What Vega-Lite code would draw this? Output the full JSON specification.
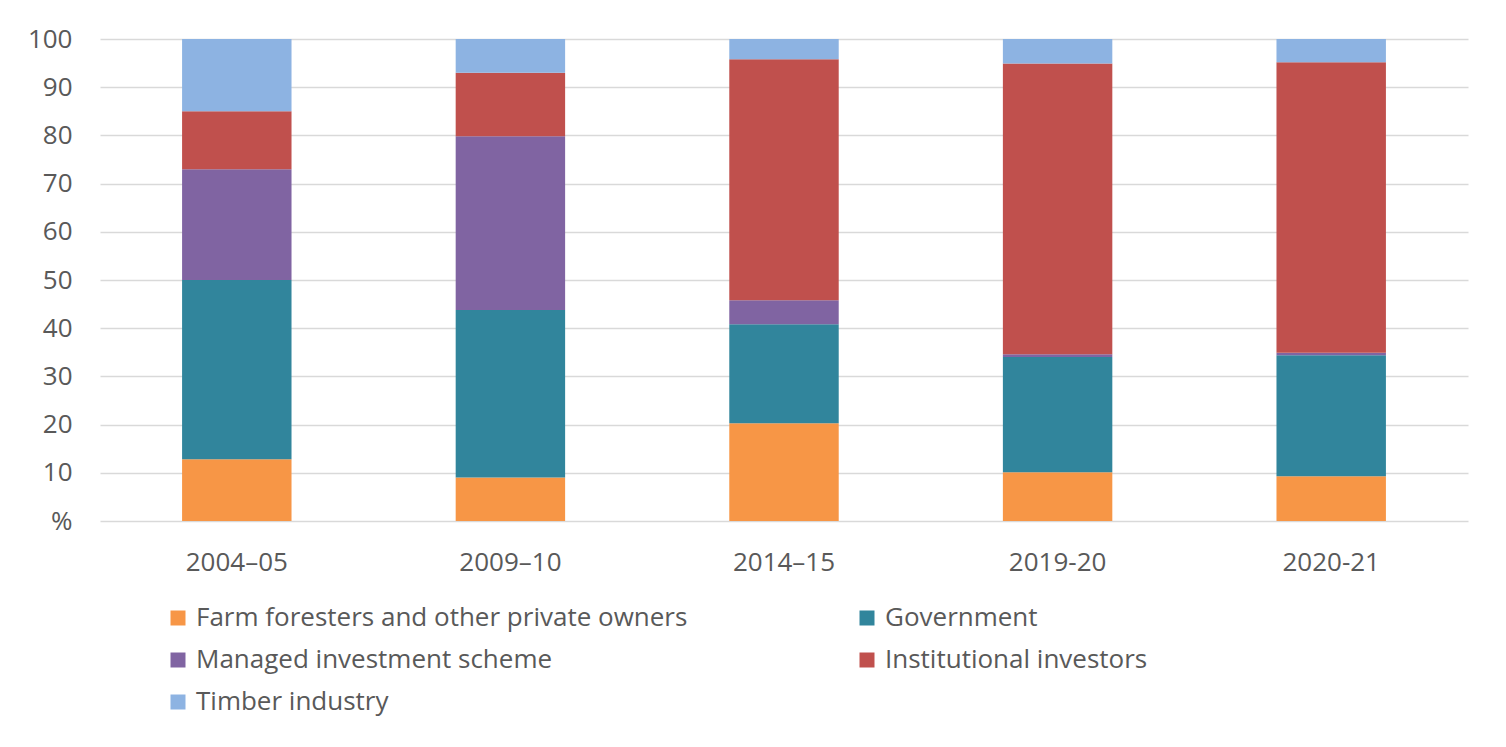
{
  "$schema": "https://vega.github.io/schema/vega-lite/v6.json",
  "autosize": {"type": "none"},
  "width": 1368,
  "height": 482,
  "padding": {"left": 100, "top": 39, "right": 38, "bottom": 226},
  "background": "white",
  "config": {
    "view": {"stroke": null},
    "font": "Open Sans",
    "axis": {"labelFont": "Open Sans", "labelColor": "#595959", "labelFontSize": 26, "titleFont": "Open Sans"},
    "legend": {"labelFont": "Open Sans", "labelColor": "#595959", "labelFontSize": 26}
  },
  "data": {
    "values": [
      {"year": "2004–05", "owner": "Farm foresters and other private owners", "share": 12.8},
      {"year": "2004–05", "owner": "Government", "share": 37.2},
      {"year": "2004–05", "owner": "Managed investment scheme", "share": 23.0},
      {"year": "2004–05", "owner": "Institutional investors", "share": 12.0},
      {"year": "2004–05", "owner": "Timber industry", "share": 15.0},
      {"year": "2009–10", "owner": "Farm foresters and other private owners", "share": 9.0},
      {"year": "2009–10", "owner": "Government", "share": 34.8},
      {"year": "2009–10", "owner": "Managed investment scheme", "share": 36.0},
      {"year": "2009–10", "owner": "Institutional investors", "share": 13.2},
      {"year": "2009–10", "owner": "Timber industry", "share": 7.0},
      {"year": "2014–15", "owner": "Farm foresters and other private owners", "share": 20.3},
      {"year": "2014–15", "owner": "Government", "share": 20.5},
      {"year": "2014–15", "owner": "Managed investment scheme", "share": 5.0},
      {"year": "2014–15", "owner": "Institutional investors", "share": 50.0},
      {"year": "2014–15", "owner": "Timber industry", "share": 4.2},
      {"year": "2019-20", "owner": "Farm foresters and other private owners", "share": 10.1},
      {"year": "2019-20", "owner": "Government", "share": 23.9},
      {"year": "2019-20", "owner": "Managed investment scheme", "share": 0.6},
      {"year": "2019-20", "owner": "Institutional investors", "share": 60.3},
      {"year": "2019-20", "owner": "Timber industry", "share": 5.1},
      {"year": "2020-21", "owner": "Farm foresters and other private owners", "share": 9.3},
      {"year": "2020-21", "owner": "Government", "share": 25.1},
      {"year": "2020-21", "owner": "Managed investment scheme", "share": 0.5},
      {"year": "2020-21", "owner": "Institutional investors", "share": 60.3},
      {"year": "2020-21", "owner": "Timber industry", "share": 4.8}
    ]
  },
  "transform": [
    {"calculate": "indexof(['Farm foresters and other private owners', 'Government', 'Managed investment scheme', 'Institutional investors', 'Timber industry'], datum.owner)", "as": "stackRank"}
  ],
  "mark": {"type": "bar"},
  "encoding": {
    "x": {
      "field": "year", "type": "nominal", "sort": null,
      "scale": {"paddingInner": 0.6, "paddingOuter": 0.3},
      "axis": {"title": null, "labelAngle": 0, "domain": false, "ticks": false, "grid": false, "labelPadding": 28}
    },
    "y": {
      "field": "share", "type": "quantitative", "stack": "zero",
      "scale": {"domain": [0, 100], "nice": false},
      "axis": {
        "title": null, "values": [0, 10, 20, 30, 40, 50, 60, 70, 80, 90, 100],
        "labelExpr": "datum.value == 0 ? '%' : datum.label",
        "domain": false, "ticks": false, "labelPadding": 28,
        "gridColor": "#d9d9d9", "gridWidth": 1.5
      }
    },
    "color": {
      "field": "owner", "type": "nominal",
      "scale": {
        "domain": ["Farm foresters and other private owners", "Managed investment scheme", "Timber industry", "Government", "Institutional investors"],
        "range": ["#F79646", "#8064A2", "#8DB3E2", "#31859C", "#C0504D"]
      },
      "legend": {
        "title": null, "orient": "none", "legendX": 65, "legendY": 566,
        "columns": 2, "columnPadding": 166, "rowPadding": 16,
        "symbolType": "square", "symbolSize": 225, "symbolStrokeWidth": 0,
        "labelOffset": 5, "labelLimit": 700
      }
    },
    "order": {"field": "stackRank", "type": "quantitative", "sort": "ascending"}
  }
}
